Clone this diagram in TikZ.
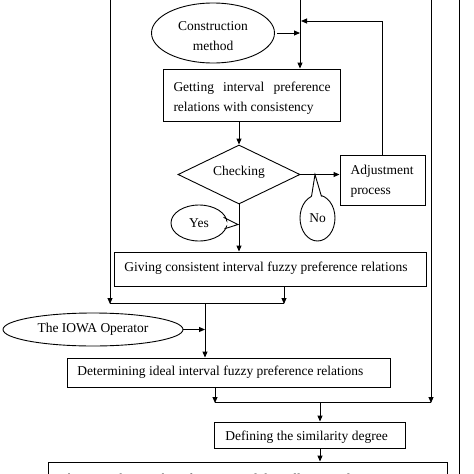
\documentclass[tikz,border=0pt]{standalone}
\usepackage{fontspec}
\setmainfont{Liberation Serif}
\usetikzlibrary{arrows.meta,shapes.geometric}
\begin{document}
\begin{tikzpicture}[x=1pt,y=-1pt,
  line width=0.9pt,
  every node/.style={font=\fontsize{13.5}{20}\selectfont},
  arr/.style={-{Triangle[length=6pt,width=5pt]}},
  boxnode/.style={draw,rectangle,inner sep=0pt},
  ellnode/.style={draw,ellipse,inner sep=0pt},
  callout/.style={draw,ellipse,inner sep=0pt,fill=white}]
\clip (0,0) rectangle (474,474);
\useasboundingbox (0,0) rectangle (474,474);
% coordinates
\coordinate (topc) at (300,0);
\coordinate (leftc) at (110,0);
\coordinate (rightc) at (431,0);
\coordinate (farc) at (459,0);
\coordinate (farb) at (459,474);
\coordinate (fb) at (301,21);
\coordinate (j1l) at (110,303);
\coordinate (j1r) at (284,303);
\coordinate (j1m) at (205,303);
\coordinate (j2l) at (215,402);
\coordinate (j2r) at (431,402);
\coordinate (j2m) at (320,402);
% nodes
\node[ellnode,minimum width=123pt,minimum height=60pt] (cons) at (213,33) {};
\node[align=center,inner sep=0pt] (constxt) at (213,36) {Construction\\method};
\node[boxnode,minimum width=177pt,minimum height=52pt] (get) at (251.5,95) {};
\node[text width=157pt,align=justify,inner sep=0pt] (gettxt) at (252,98) {\hyphenpenalty=10000\exhyphenpenalty=10000 Getting interval preference relations with consistency};
\node[draw,diamond,minimum width=122pt,minimum height=59pt,inner sep=0pt] (check) at (239,174.5) {};
\node (checktxt) at (239,172) {Checking};
\node[boxnode,minimum width=85pt,minimum height=50pt] (adj) at (382.5,180) {};
\node[text width=75pt,align=left,inner sep=0pt] (adjtxt) at (388,181) {Adjustment\\process};
\node[boxnode,minimum width=312pt,minimum height=34pt] (give) at (270,269) {};
\node[anchor=west,inner sep=0pt] (givetxt) at (124,268) {Giving consistent interval fuzzy preference relations};
\node[ellnode,minimum width=180pt,minimum height=33pt] (iowa) at (93,329.5) {The IOWA Operator};
\node[boxnode,minimum width=323pt,minimum height=29pt] (det) at (228.5,372.5) {};
\node[anchor=west,inner sep=0pt] (dettxt) at (77,372) {Determining ideal interval fuzzy preference relations};
\node[boxnode,minimum width=191pt,minimum height=26pt] (def) at (309.5,435) {};
\node[anchor=west,inner sep=0pt] (deftxt) at (225,437) {Defining the similarity degree};
\node[boxnode,minimum width=399pt,minimum height=60pt] (bot) at (247.5,492) {};
\node[anchor=west,inner sep=0pt] (bottxt) at (58,480) {Obtaining the weights of experts and the collective relations};
% callouts
\node[callout,minimum width=56pt,minimum height=36pt] (yes) at (199,223) {Yes};
\fill[white] (223,218.5) -- (229,224) -- (223,227.5) -- cycle;
\draw (223.5,217.3) -- (238,224.5) -- (224.5,228.8);
\node[callout,minimum width=35pt,minimum height=46pt] (no) at (317.5,218) {No};
\fill[white] (311.5,197) -- (315,184) -- (322,197) -- cycle;
\draw (311.5,196.5) -- (315,174.5) -- (321.5,196.5);
% connectors
\draw[arr] (topc) -- (get.north -| topc);
\draw[arr] ([xshift=2pt]cons.east) -- (cons.east -| topc);
\draw[arr] (adj.north) |- (fb);
\draw[arr] (check.north |- get.south) -- (check.north);
\draw[arr] (check.east) -- (check.east -| adj.west);
\draw[arr] (check.south) -- (check.south |- give.north);
\draw[arr] (leftc) -- ([yshift=-1pt]j1l);
\draw[arr] (give.south -| j1r) -- ([yshift=-1pt]j1r);
\draw (j1l) -- (j1r);
\draw[arr] (j1m) -- (det.north -| j1m);
\draw[arr] (iowa.east) -- (iowa.east -| j1m);
\draw[arr] (det.south -| j2l) -- ([yshift=-1pt]j2l);
\draw[arr] (rightc) -- ([yshift=-1pt]j2r);
\draw (j2l) -- (j2r);
\draw[arr] (j2m) -- (def.north -| j2m);
\draw[arr] (def.south -| j2m) -- (bot.north -| j2m);
\draw (farc) -- (farb);
\end{tikzpicture}
\end{document}
